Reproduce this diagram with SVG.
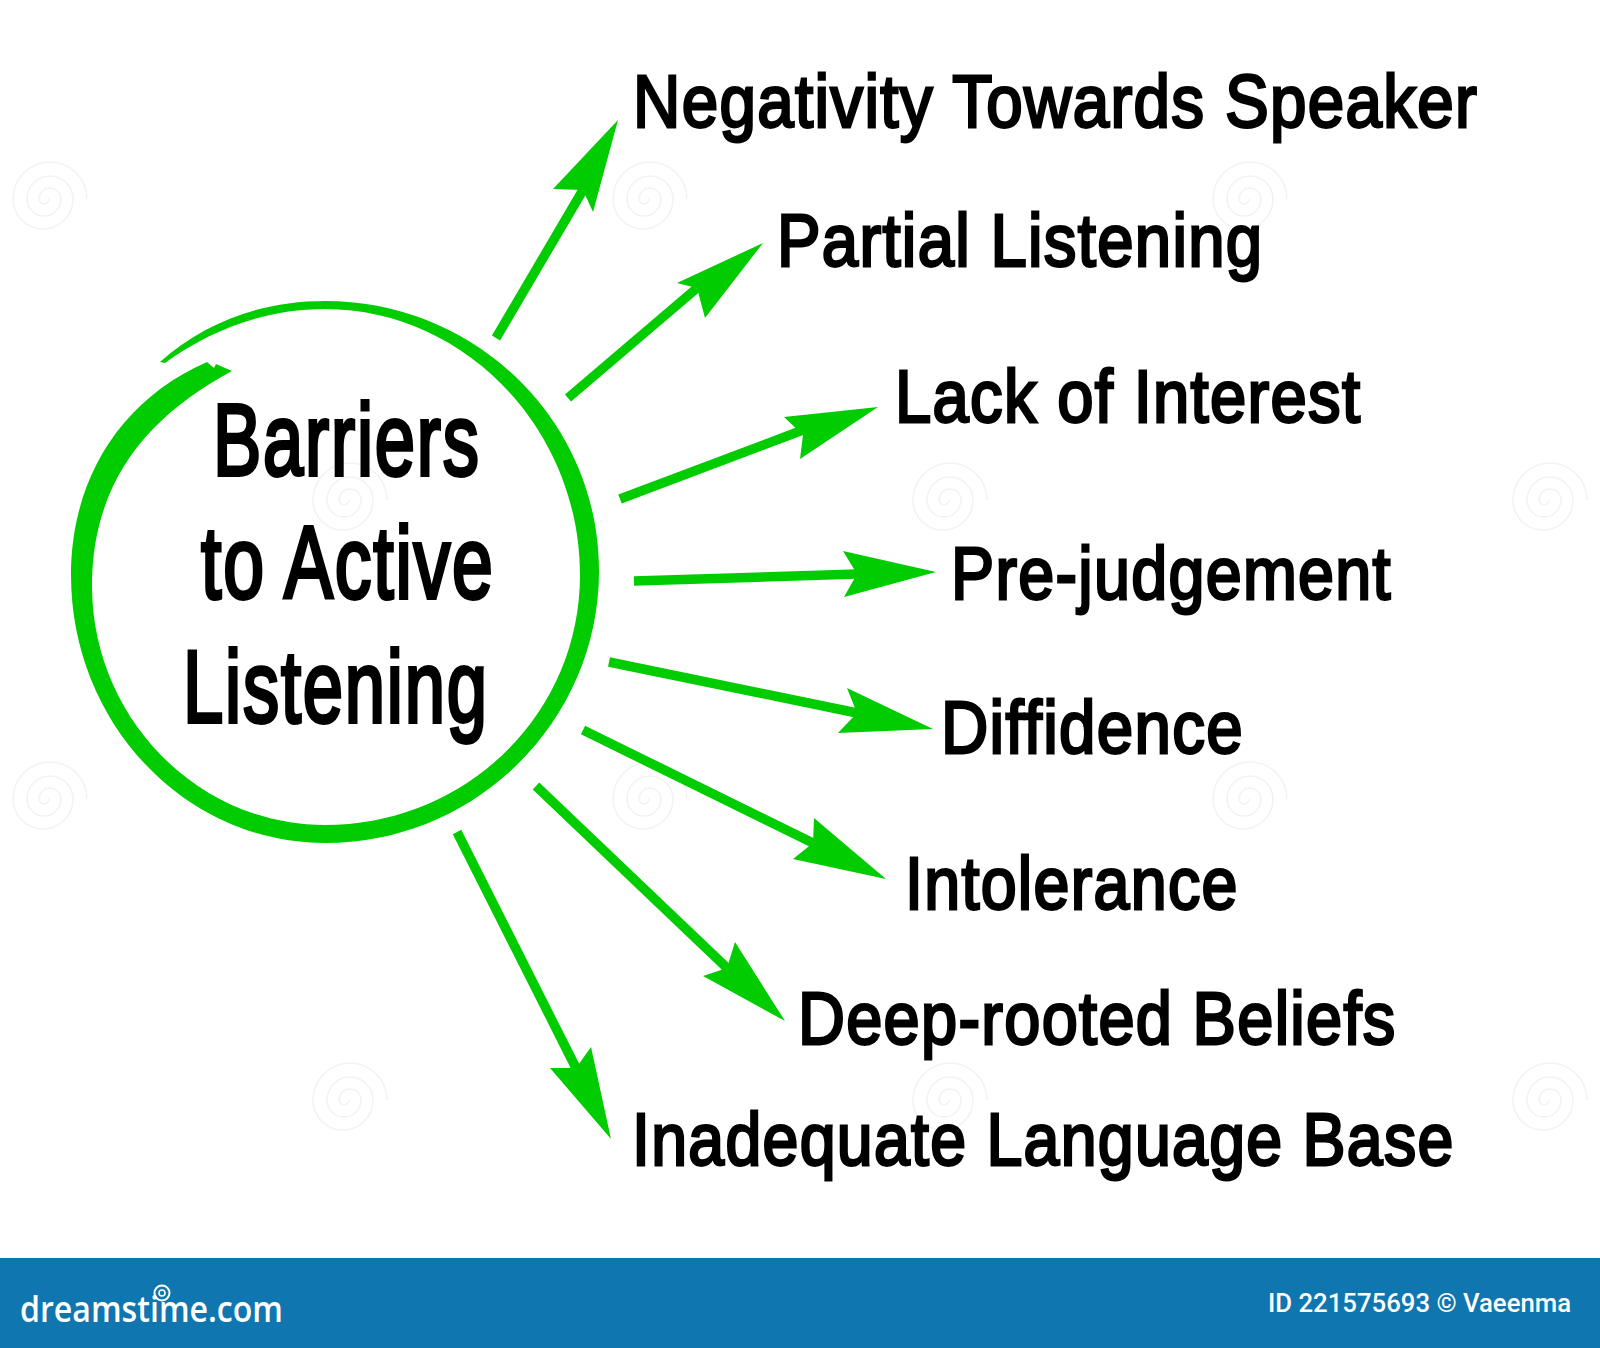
<svg xmlns="http://www.w3.org/2000/svg" width="1600" height="1348" viewBox="0 0 1600 1348">
<style>
.lbl{font-family:"Liberation Sans",Arial,sans-serif;font-weight:400;font-size:75px;letter-spacing:1.5px;fill:#000;stroke:#000;stroke-width:2.8px}
.ctr{font-size:102px;letter-spacing:2.5px;stroke-width:3.8px}
.shaft{stroke:#00cc00;stroke-width:9.5;fill:none}
.head,.ring{fill:#00cc00}
.wm{fill:none;stroke:#f3f3f3;stroke-width:1.6}
.logo{font-family:"Open Sans",sans-serif;font-weight:600;font-size:36px;fill:#fff}
.cred{font-family:Roboto,sans-serif;font-weight:500;font-size:25.5px;fill:#fff}
</style>
<defs>
<path id="spiral" d="M0,0a5,5 0 0 1 -10,0a11,11 0 0 1 22,0a17,17 0 0 1 -34,0a23,23 0 0 1 46,0a30,30 0 0 1 -60,0a37,37 0 0 1 74,0"/>
</defs>
<rect width="1600" height="1348" fill="#fff"/>
<g id="watermarks" class="wm">
<use href="#spiral" x="49" y="199"/><use href="#spiral" x="649" y="199"/><use href="#spiral" x="1249" y="199"/>
<use href="#spiral" x="349" y="500"/><use href="#spiral" x="949" y="500"/><use href="#spiral" x="1549" y="500"/>
<use href="#spiral" x="49" y="799"/><use href="#spiral" x="649" y="799"/><use href="#spiral" x="1249" y="799"/>
<use href="#spiral" x="349" y="1100"/><use href="#spiral" x="949" y="1100"/><use href="#spiral" x="1549" y="1100"/>
</g>
<g id="connectors">
<g id="arrow-1"><line class="shaft" x1="496" y1="338" x2="583" y2="190"/><polygon class="head" points="618,120 593,212 583,190 553,189"/></g>
<g id="arrow-2"><line class="shaft" x1="568" y1="398" x2="697" y2="288"/><polygon class="head" points="763,243 705,318 697,288 677,283"/></g>
<g id="arrow-3"><line class="shaft" x1="620" y1="499" x2="803" y2="430"/><polygon class="head" points="878,407 800,459 803,435 784,417"/></g>
<g id="arrow-4"><line class="shaft" x1="634" y1="581" x2="857" y2="574"/><polygon class="head" points="936,572 844,597 857,574 843,551"/></g>
<g id="arrow-5"><line class="shaft" x1="609" y1="662" x2="857" y2="713"/><polygon class="head" points="933,729 838,733 857,713 847,688"/></g>
<g id="arrow-6"><line class="shaft" x1="583" y1="730" x2="813" y2="843"/><polygon class="head" points="886,879 793,859 813,843 814,818"/></g>
<g id="arrow-7"><line class="shaft" x1="536" y1="786" x2="727" y2="968"/><polygon class="head" points="785,1021 703,976 727,968 735,942"/></g>
<g id="arrow-8"><line class="shaft" x1="457" y1="832" x2="576" y2="1068"/><polygon class="head" points="611,1139 550,1068 576,1068 591,1047"/></g>
</g>
<g id="node-center">
<path class="ring" d="M160,362 C205,322 262,301 325,301 C476,301 599,421 599,571 C599,721 476,843 325,843 C185,843 71,723 71,575 C71,480 120,400 207,362 L214,368 L216,364 L232,371 C150,415 92,480 92,586 C92,715 195,825 325,825 C465,825 580,715 580,575 C580,430 465,309 325,309 C265,309 210,330 165,363 Z"/>
<text class="lbl ctr" transform="translate(213,475) scale(.71,1)">Barriers</text>
<text class="lbl ctr" transform="translate(201,598) scale(.72,1)">to Active</text>
<text class="lbl ctr" transform="translate(183,722) scale(.71,1)">Listening</text>
</g>
<g id="node-negativity"><text class="lbl" transform="translate(633,126.5) scale(.874,1)">Negativity Towards Speaker</text></g>
<g id="node-partial"><text class="lbl" transform="translate(777,265.5) scale(.87,1)">Partial Listening</text></g>
<g id="node-interest"><text class="lbl" transform="translate(895,421.5) scale(.869,1)">Lack of Interest</text></g>
<g id="node-prejudgement"><text class="lbl" transform="translate(951,598.5) scale(.862,1)">Pre-judgement</text></g>
<g id="node-diffidence"><text class="lbl" transform="translate(941,752.5) scale(.873,1)">Diffidence</text></g>
<g id="node-intolerance"><text class="lbl" transform="translate(905,908.5) scale(.861,1)">Intolerance</text></g>
<g id="node-beliefs"><text class="lbl" transform="translate(798,1043.5) scale(.866,1)">Deep-rooted Beliefs</text></g>
<g id="node-language"><text class="lbl" transform="translate(632,1164.5) scale(.859,1)">Inadequate Language Base</text></g>
<g id="footer">
<rect x="0" y="1258" width="1600" height="90" fill="#0f76b0"/>
<text class="logo" x="20" y="1322" textLength="263" lengthAdjust="spacingAndGlyphs">dreamstime.com</text>
<circle cx="162" cy="1293" r="7.5" fill="none" stroke="#fff" stroke-width="2"/><circle cx="162" cy="1293" r="3" fill="none" stroke="#fff" stroke-width="1.6"/>
<text class="cred" x="1268" y="1312" textLength="303" lengthAdjust="spacingAndGlyphs">ID 221575693 © Vaeenma</text>
</g>
</svg>
